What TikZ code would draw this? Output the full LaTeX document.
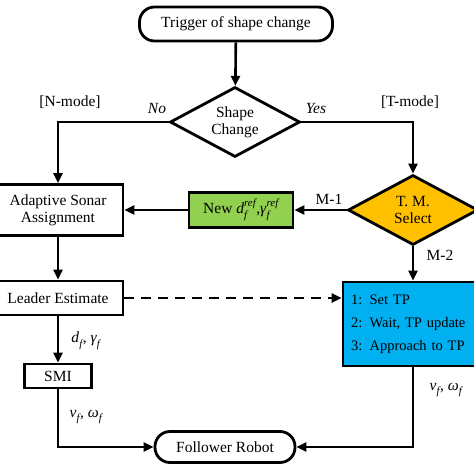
\documentclass[tikz,border=0pt]{standalone}
\usepackage{amsmath}
\usepackage{fontspec}
\setmainfont{Liberation Serif}
\usetikzlibrary{arrows.meta, positioning, shapes.geometric}

\definecolor{tmorange}{RGB}{255,192,0}
\definecolor{refgreen}{RGB}{146,208,80}
\definecolor{tpblue}{RGB}{0,176,240}
\newcommand{\vr}[3]{\textit{#1}$_{\textit{#2}}^{\textit{#3}}$}

\begin{document}
\begin{tikzpicture}[x=1pt,y=-1pt,
  every node/.style={font=\fontsize{15.5}{17}\selectfont},
  box/.style={draw,line width=2.8pt,inner sep=0pt,align=center},
  term/.style={box,rounded corners=15pt},
  decide/.style={box,diamond,aspect=1.86,minimum width=130pt,minimum height=70pt},
  flow/.style={line width=2.6pt,-{Triangle[length=10pt,width=9pt]}}]
\useasboundingbox (0,0) rectangle (474,474);
% blocks
\node[term,minimum width=193pt,minimum height=34pt] (start) at (236,24) {Trigger of shape change};
\node[decide] (shape) at (235,122) {Shape\\Change};
\node[box,minimum width=130pt,minimum height=51pt] (asa) at (58,210) {Adaptive Sonar\\Assignment};
\node[box,fill=refgreen,minimum width=104pt,minimum height=35pt] (green) at (241,210) {New \vr{d}{f}{ref},\vr{γ}{f}{ref}};
\node[decide,fill=tmorange] (tm) at (413,210) {T. M.\\Select};
\node[box,minimum width=130pt,minimum height=34pt] (leader) at (58,298) {Leader Estimate};
\node[box,fill=tpblue,minimum height=84pt,text width=124pt,inner xsep=8pt,align=left,
  font=\fontsize{14.5}{17}\selectfont] (blue) at (413,324)
  {1: Set TP\\[6pt]2: Wait, TP update\\[6pt]3: Approach to TP};
\node[box,minimum width=67pt,minimum height=24pt] (smi) at (58,376) {SMI};
\node[term,minimum width=140pt,minimum height=31pt] (follower) at (225,447) {Follower Robot};
% labels
\node (nmode) at (70,102) {[N-mode]};
\node (tmode) at (410,102) {[T-mode]};
\node (no) at (157,108) {\textit{No}};
\node (yes) at (316,108) {\textit{Yes}};
\node (m1) at (329,199) {M-1};
\node (m2) at (440,255) {M-2};
\node (dgam) at (86,341) {\vr{d}{f}{}, \vr{γ}{f}{}};
\node (vw1) at (86,417) {\vr{v}{f}{}, \vr{ω}{f}{}};
\node (vw2) at (446,390) {\vr{v}{f}{}, \vr{ω}{f}{}};
% connectors
\draw[flow] (start) -- (shape);
\draw[flow] (shape.west) -| (asa.north);
\draw[flow] (shape.east) -| (tm.north);
\draw[flow] (tm.west) -- (green.east);
\draw[flow] (green.west) -- (asa.east);
\draw[flow] (tm.south) -- (blue.north);
\draw[flow] (asa) -- (leader);
\draw[flow,dash pattern=on 10pt off 7pt] (leader.east) -- (leader.east -| blue.west);
\draw[flow] (leader) -- (smi);
\draw[flow] (smi.south) |- (follower.west);
\draw[flow] (blue.south) |- (follower.east);
\end{tikzpicture}
\end{document}
